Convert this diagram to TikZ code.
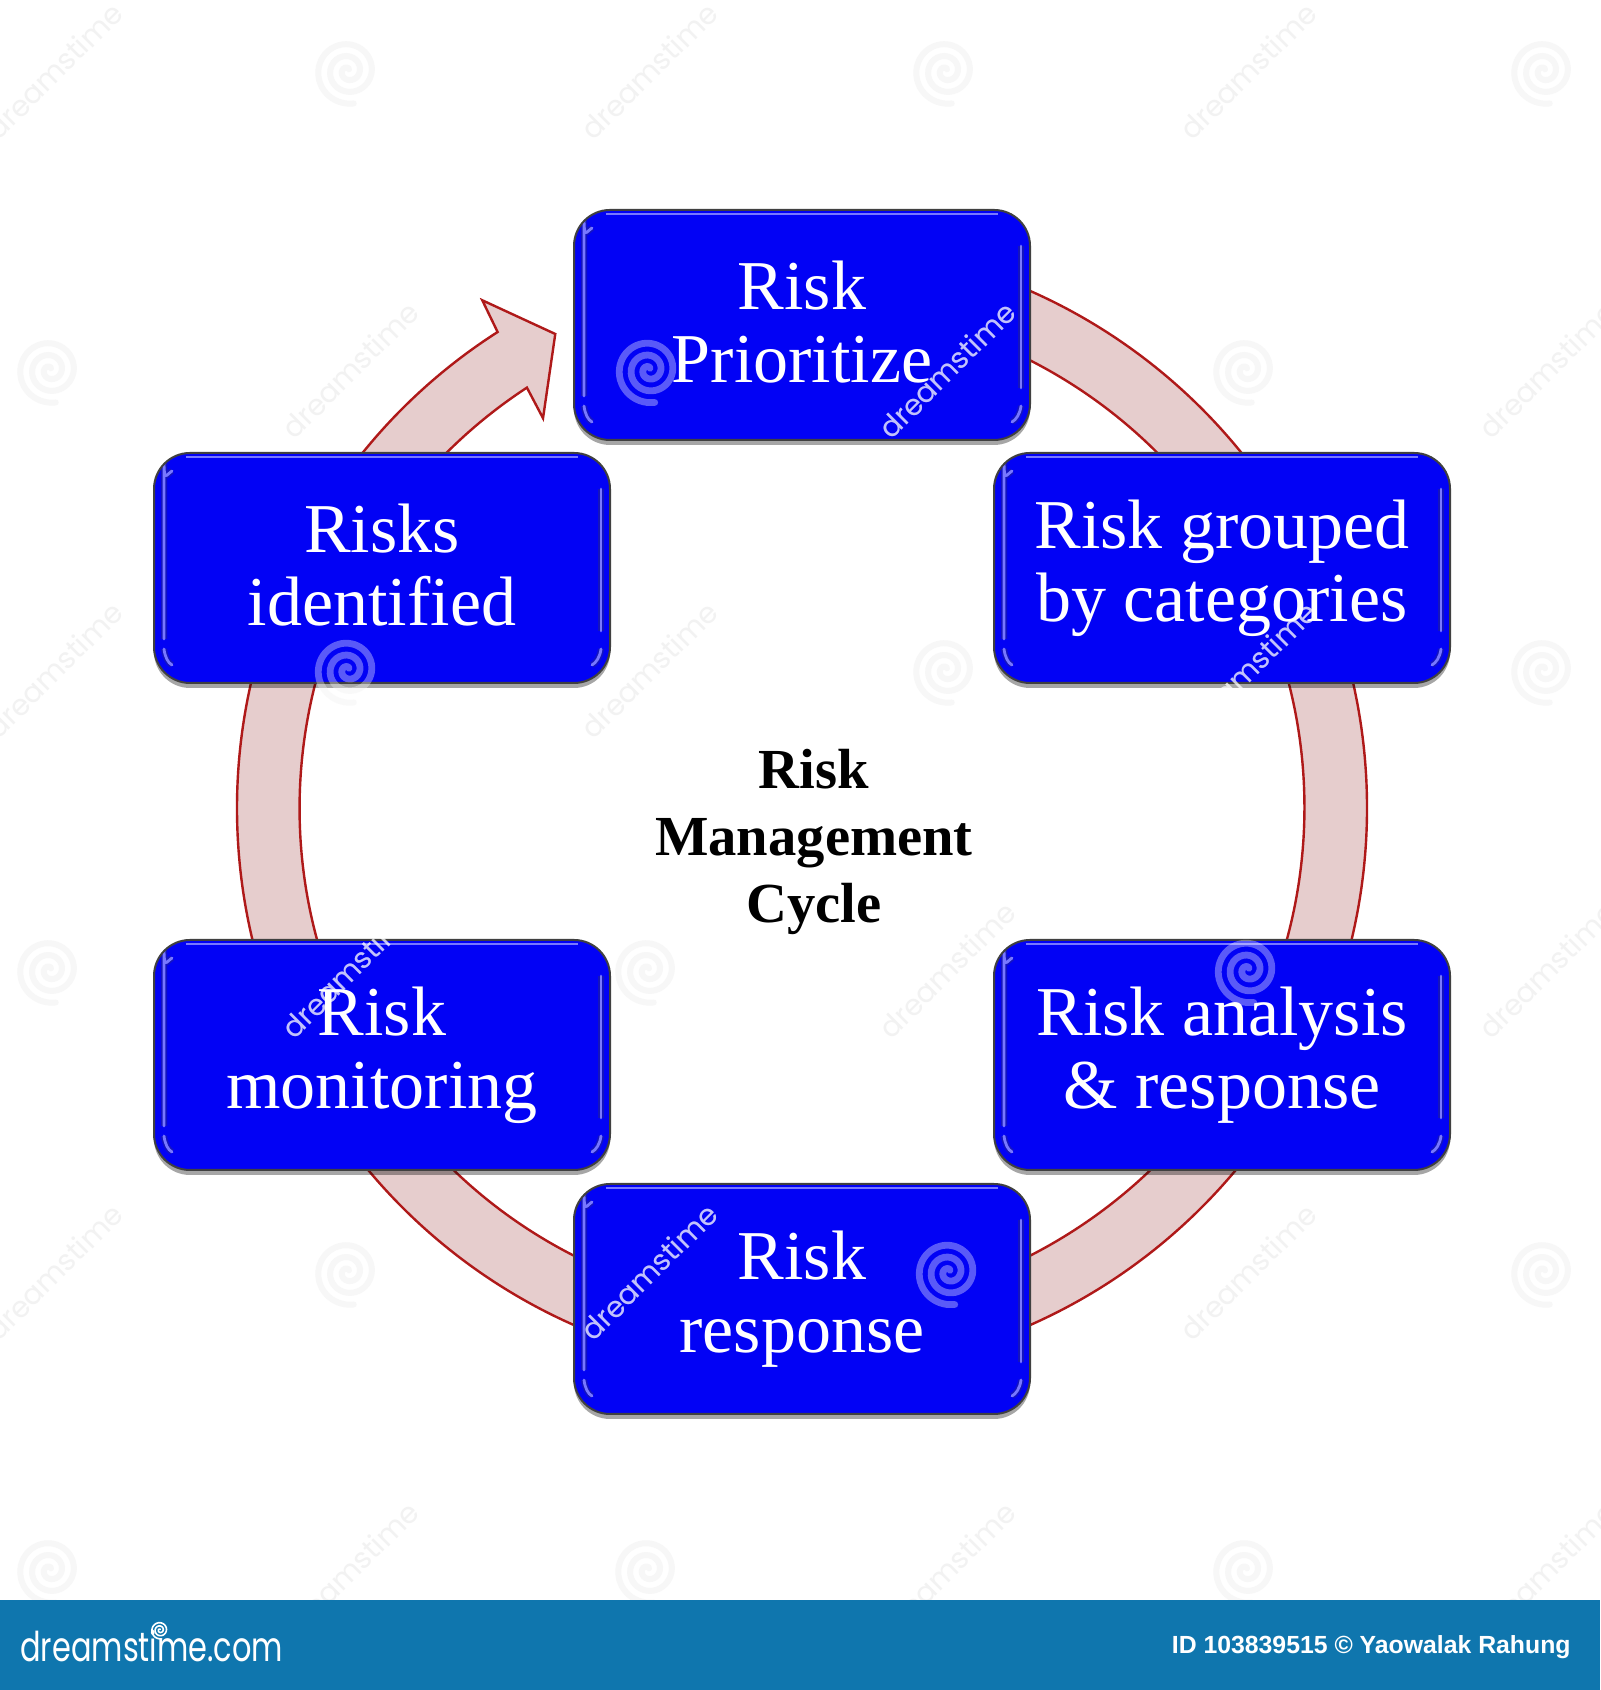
\documentclass[tikz,border=0pt]{standalone}
\usepackage{fontspec}
\usepackage{graphicx}
\setmainfont{Liberation Serif}
\newfontfamily\markfont{Poppins}
\newfontfamily\idfont{Liberation Sans}
\usetikzlibrary{shadows}

\definecolor{boxblue}{RGB}{2,2,245}
\definecolor{glossblue}{RGB}{120,120,255}
\definecolor{ringfill}{RGB}{230,205,205}
\definecolor{ringline}{RGB}{175,25,25}
\definecolor{barblue}{RGB}{15,118,174}

\newcommand{\swirl}[4]{%
  \draw[#4,line cap=round,domain=60:1000,samples=70,smooth,variable=\t]
    plot ({#1+#3*(\t/1000)*cos(\t)},{#2+#3*(\t/1000)*sin(\t)});}

\tikzset{
  riskbox/.style={
    rectangle,rounded corners=18pt,draw=black!75,line width=1pt,fill=boxblue,
    minimum width=228pt,minimum height=115pt,inner sep=0pt,align=center,
    text=white,font=\fontsize{35}{36.5}\selectfont,
    execute at end node={\rule[-3.4pt]{0pt}{1pt}},
    drop shadow={shadow xshift=0pt,shadow yshift=-2.5pt,opacity=.35,fill=black},
    path picture={
      \coordinate (nw) at (path picture bounding box.north west);
      \coordinate (ne) at (path picture bounding box.north east);
      \coordinate (sw) at (path picture bounding box.south west);
      \coordinate (se) at (path picture bounding box.south east);
      \draw[gloss] ([xshift=9pt,yshift=-9pt]nw) .. controls ([xshift=6pt,yshift=-11pt]nw) and ([xshift=5pt,yshift=-15pt]nw) .. ([xshift=5pt,yshift=-21pt]nw) -- ([xshift=5pt,yshift=22pt]sw);
      \draw[gloss] ([xshift=-4.5pt,yshift=-18pt]ne) -- ([xshift=-4.5pt,yshift=26pt]se);
      \draw[gloss] ([xshift=-4.5pt,yshift=17pt]se) .. controls ([xshift=-5pt,yshift=13pt]se) and ([xshift=-7pt,yshift=10pt]se) .. ([xshift=-9pt,yshift=9pt]se);
      \draw[gloss] ([xshift=5pt,yshift=17pt]sw) .. controls ([xshift=5.5pt,yshift=13pt]sw) and ([xshift=7pt,yshift=10pt]sw) .. ([xshift=9pt,yshift=9pt]sw);
      \draw[glossblue,line width=1pt] ([xshift=16pt,yshift=-1.8pt]nw) -- ([xshift=-16pt,yshift=-1.8pt]ne);
    }},
  gloss/.style={glossblue,line width=1.4pt,line cap=round,preaction={draw,line width=3pt,opacity=.3}},
  ringarrow/.style={draw=ringline,fill=ringfill,line width=1.2pt,line join=miter},
  hubtext/.style={align=center,font=\bfseries\fontsize{28.3}{33.5}\selectfont},
  marktext/.style={rotate=45,font=\markfont\fontsize{14.5}{15}\selectfont},
}

\begin{document}
\begin{tikzpicture}[x=0.5pt,y=0.5pt]
\useasboundingbox (0,0) rectangle (1600,1690);
\fill[white] (0,0) rectangle (1600,1690);

% faint marks on the white ground
\foreach \y/\a in {1619/348,1320/50,1020/348,720/50,418/348,120/50}
  \foreach \i in {0,1,2} {
    \pgfmathsetmacro{\sx}{\a+598*\i}
    \swirl{\sx}{\y}{33}{black!3,line width=3pt}
  }
\foreach \x/\y in {54/1619,649/1619,1248/1619,350/1320,1547/1320,54/1020,649/1020,947/720,1547/720,54/418,1248/418,350/120,947/120,1547/120}
  \node[marktext,text=black!5] (mark\x\y) at (\x,\y) {dreamstime};

% the ring with its arrow head
\coordinate (hub) at (802,882);
\draw[ringarrow] ([shift={(90:282.5pt)}]hub) arc[start angle=90,end angle=-237.4,radius=282.5pt]
  -- ([shift={(122.2:300pt)}]hub) -- ([shift={(117.5:267.2pt)}]hub) -- ([shift={(123.6:234pt)}]hub)
  -- ([shift={(123.2:251.2pt)}]hub) arc[start angle=-236.8,end angle=90,radius=251.2pt] -- cycle;

% the boxes
\node[riskbox] (prioritize) at (802,1365) {Risk\\Prioritize};
\node[riskbox] (grouped) at (1222,1122) {Risk grouped\\by categories};
\node[riskbox] (analysis) at (1222,635) {Risk analysis\\\&\ response};
\node[riskbox] (response) at (802,391) {Risk\\response};
\node[riskbox] (monitoring) at (382,635) {Risk\\monitoring};
\node[riskbox] (identified) at (382,1122) {Risks\\identified};

\node[hubtext] (title) at (814,848) {Risk\\Management\\Cycle};

%% the marks showing on the boxes
\foreach \x/\y in {649/1320,348/1020,1248/720,949/418}
  \swirl{\x}{\y}{33}{white,opacity=.35,line width=3.4pt}
\foreach \x/\y in {947/1320,1248/1020,350/720,649/418}
  \node[marktext,text=white,text opacity=.3] (onbox\x\y) at (\x,\y) {dreamstime};

%% bar at the foot
\fill[barblue] (0,0) rectangle (1600,90);
\node[anchor=base west,text=white,inner sep=0pt,font=\markfont\fontsize{15.2}{16}\selectfont] (brand) at (20,28) {\scalebox{1}[1.35]{dreamstime.com}};
\swirl{160}{60}{9}{white,line width=.8pt}
\node[anchor=base east,text=white,inner sep=0pt,font=\idfont\bfseries\fontsize{12.4}{13}\selectfont] (credit) at (1571,36) {ID 103839515 © Yaowalak Rahung};
\end{tikzpicture}
\end{document}
